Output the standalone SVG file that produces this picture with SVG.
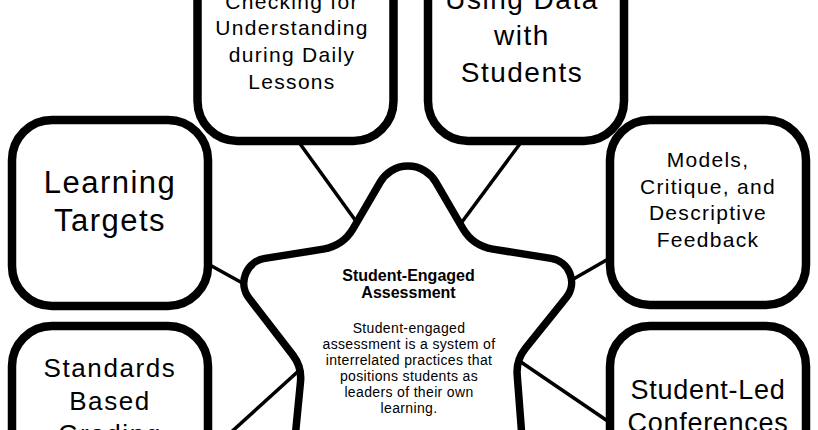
<svg xmlns="http://www.w3.org/2000/svg" width="818" height="430" viewBox="0 0 818 430">
<style>
.box{fill:#fff;stroke:#000;stroke-width:8.5}
.star{fill:#fff;stroke:#000;stroke-width:7.5;stroke-linejoin:round}
.conn{stroke:#000;stroke-width:3.5;fill:none}
text{font-family:"Liberation Sans",Arial,sans-serif;fill:#000;text-anchor:middle}
</style>
<rect width="818" height="430" fill="#fff"/>
<g id="connectors">
<line class="conn" x1="298" y1="141" x2="358" y2="224"/>
<line class="conn" x1="522" y1="141" x2="459" y2="226"/>
<line class="conn" x1="208" y1="264" x2="246" y2="285"/>
<line class="conn" x1="610" y1="258" x2="570" y2="281"/>
<line class="conn" x1="304" y1="366" x2="206" y2="455"/>
<line class="conn" x1="515" y1="358" x2="612" y2="424"/>
</g>
<g id="checking">
<rect class="box" x="197.5" y="-45" width="196" height="186" rx="40"/>
<text font-size="21" letter-spacing="1.3"><tspan x="292" y="8.5">Checking for</tspan><tspan x="292" y="35.2">Understanding</tspan><tspan x="292" y="62">during Daily</tspan><tspan x="292" y="88.5">Lessons</tspan></text>
</g>
<g id="usingdata">
<rect class="box" x="428" y="-45" width="196" height="186" rx="40"/>
<text font-size="28" letter-spacing="1.5"><tspan x="522" y="9">Using Data</tspan><tspan x="522" y="45">with</tspan><tspan x="522" y="81.5">Students</tspan></text>
</g>
<g id="learning">
<rect class="box" x="12" y="120" width="196" height="186" rx="40"/>
<text font-size="31" letter-spacing="1.5"><tspan x="110" y="192.7">Learning</tspan><tspan x="110" y="230.7">Targets</tspan></text>
</g>
<g id="models">
<rect class="box" x="610" y="120" width="196" height="185" rx="40"/>
<text font-size="21" letter-spacing="1.3"><tspan x="708" y="167.3">Models,</tspan><tspan x="708" y="193.7">Critique, and</tspan><tspan x="708" y="220.4">Descriptive</tspan><tspan x="708" y="247">Feedback</tspan></text>
</g>
<g id="standards">
<rect class="box" x="12" y="326" width="196" height="186" rx="40"/>
<text font-size="26" letter-spacing="1.6"><tspan x="110" y="377.3">Standards</tspan><tspan x="110" y="410">Based</tspan><tspan x="110" y="443">Grading</tspan></text>
</g>
<g id="studentled">
<rect class="box" x="610" y="326" width="196" height="186" rx="40"/>
<text font-size="27" letter-spacing="0.7"><tspan x="708" y="399.3">Student-Led</tspan><tspan x="708" y="432">Conferences</tspan></text>
</g>
<g id="center">
<path class="star" d="M380.3 182 A32.1 32.1 0 0 1 435.7 182 L462.9 228.7 A42.2 42.2 0 0 0 492.8 249.1 L551 258.4 A24.3 24.3 0 0 1 566.2 297.7 L525.4 348.3 A37.9 37.9 0 0 0 517.2 375 L526 490 L408 450 L290 490 L300.5 381.9 A37.9 37.9 0 0 0 292.9 355.1 L249.1 298.3 A24.9 24.9 0 0 1 265 258.4 L323.2 249.1 A42.2 42.2 0 0 0 353.1 228.7 Z"/>
<text font-size="16" font-weight="bold"><tspan x="408.5" y="280.7">Student-Engaged</tspan><tspan x="408.5" y="297.5">Assessment</tspan></text>
<text font-size="14" letter-spacing="0.35"><tspan x="409" y="333.3">Student-engaged</tspan><tspan x="409" y="349">assessment is a system of</tspan><tspan x="409" y="365">interrelated practices that</tspan><tspan x="409" y="381.3">positions students as</tspan><tspan x="409" y="397.3">leaders of their own</tspan><tspan x="409" y="413.3">learning.</tspan></text>
</g>
</svg>
